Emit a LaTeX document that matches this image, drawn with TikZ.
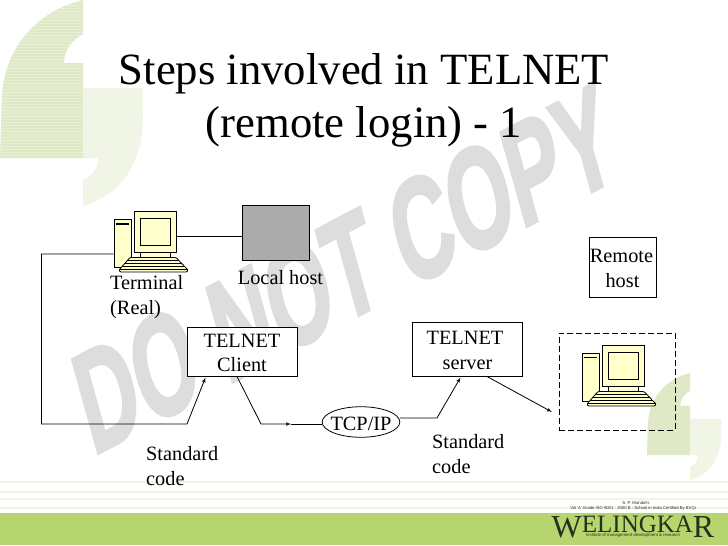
\documentclass[tikz,border=0pt]{standalone}
\usepackage{fontspec}
\setmainfont{Liberation Serif}
\newfontfamily\marksans{Liberation Sans}
\newfontfamily\markheavy{Liberation Sans}[BoldFeatures={FakeBold=2.5}]
\usetikzlibrary{shapes,arrows,calc,patterns}
\definecolor{screenyellow}{HTML}{FFFFCC}
\definecolor{quotegreen}{HTML}{DFE9C6}
\definecolor{quotestripe}{HTML}{E9F0D8}
\definecolor{quotepale}{HTML}{F1F5E6}
\definecolor{bandgreen}{HTML}{B7D56F}
\definecolor{stripegrey}{HTML}{F3F4E8}
\definecolor{markgrey}{HTML}{DDDDDD}
\definecolor{logoink}{HTML}{26301A}
\tikzstyle{line} = [draw, -latex', line width=.8pt]
\tikzstyle{block} = [draw, rectangle, text centered, inner sep=0pt, line width=1pt]
\tikzstyle{caption} = [font=\fontsize{20.3}{24.5}\selectfont, inner sep=0pt, align=left]
\tikzstyle{part} = [draw, rectangle, fill=screenyellow, inner sep=0pt, line width=.8pt]
\tikzstyle{stripe} = [stripegrey, line width=2pt]
\tikzstyle{word} = [markgrey, inner sep=0pt, anchor=base west]
\tikzstyle{small} = [inner sep=0pt, logoink]
\newcommand{\topstrut}{\rule{0pt}{16.4pt}}
\newcommand{\quotedark}{(83,0) .. controls (40,10) and (5,45) .. (2,95) -- (0,158) -- (83,158) -- (83,63) -- (64,63) .. controls (64,50) and (72,40) .. (83,34) -- cycle}
\newcommand{\quotelight}{(83,88) -- (143,88) -- (143,115) .. controls (143,165) and (120,195) .. (83,206) -- (83,180) .. controls (92,176) and (98,170) .. (98,158) -- (83,158) -- cycle}
\tikzset{pics/pcicon/.style={code={
    \node[part, minimum width=17pt, minimum height=48pt] (-tower) at (8.5,24) {};
    \fill (2,3.5) rectangle +(13,#1);
    \node[part, minimum width=42pt, minimum height=41pt] (-monitor) at (41,12.5) {};
    \node[part, minimum width=30pt, minimum height=27pt] (-screen) at (41,12.5) {};
    \draw[fill=screenyellow, line width=.8pt] (26,33) rectangle (56,39);
    \draw[fill=screenyellow, line width=.8pt, rounded corners=1pt] (16,38.5) -- (62,38.5) -- (74,51) -- (73,53) -- (6,53) -- (5,51) -- cycle;
    \draw[line width=.7pt] (13,41.5) -- (65,41.5);
    \draw[line width=.7pt] (11,44) -- (68,44);
    \draw[line width=.7pt] (8,47) -- (71,47);
    \draw[line width=.7pt] (5.5,50.5) -- (73.5,50.5);
}}}

\begin{document}
\begin{tikzpicture}[x=1pt, y=-1pt]
        \useasboundingbox (0,0) rectangle (728,546);
        % background
        \fill[white] (0,0) rectangle (728,546);
        \fill[quotegreen] \quotedark;
        \fill[pattern=horizontal lines, pattern color=quotestripe] \quotedark;
        \fill[quotepale] \quotelight;
        \begin{scope}[shift={(647,373)}, scale=.52]
            \fill[quotegreen] \quotedark;
            \fill[quotepale] \quotelight;
        \end{scope}
        \draw[stripe] (0,482) -- (728,482);
        \draw[stripe] (0,492) -- (728,492);
        \draw[stripe] (0,499) -- (728,499);
        \draw[stripe] (0,508) -- (728,508);
        \fill[bandgreen] (0,513) rectangle (728,545);
        \begin{scope}[cm={.54,.286,-.27,.97,(93,456)}]
            \node[word, transform shape, font=\markheavy\bfseries\fontsize{140}{140}\selectfont] at (0,0) (mark) {DO NOT COPY};
        \end{scope}
        % title
        \node[font=\fontsize{44.7}{53}\selectfont, align=center, inner sep=0pt] at (364,100) (title) {Steps involved in TELNET\\(remote login) - 1};
        % left side
        \pic (real) at (114,219) {pcicon=2};
        \node[caption] at (110,297) [anchor=west] (terminal) {Terminal\\(Real)};
        \node[block, fill=black!33, minimum width=67pt, minimum height=55pt] at (275.5,232.5) (local) {};
        \node[caption, below of=local, node distance=45pt, xshift=5pt] (locallabel) {Local host};
        \node[block, caption, align=center, fill=white, minimum width=110pt, minimum height=49pt] at (242,351.5) (client) {\topstrut TELNET\\Client};
        \node[caption] at (146,466) [anchor=west] (standarda) {Standard\\code};
        % middle
        \node[draw, ellipse, caption, line width=.8pt, inner xsep=-3pt, inner ysep=2.5pt] at (361,422) (tcp) {\topstrut TCP/IP};
        \node[block, caption, align=center, fill=white, minimum width=110pt, minimum height=54pt] at (467,349) (server) {\topstrut TELNET\hspace*{4pt}\\\hspace*{1pt}server};
        \node[caption] at (432,454) [anchor=west] (standardb) {Standard\\code};
        % right side
        \node[block, caption, align=center, fill=white, minimum width=67pt, minimum height=60pt] at (622.5,267) (remote) {\topstrut Remote\hspace*{2pt}\\host};
        \node[draw, rectangle, dash pattern=on 6pt off 3pt, line width=.8pt, minimum width=116pt, minimum height=97pt, inner sep=0pt] at (617,381.5) (remotebox) {};
        \pic (virtual) at (582,353) {pcicon=.6};
        % bends and free ends
        \coordinate (loopa) at (41.5,254);
        \coordinate (loopb) at (41.5,424);
        \coordinate (loopc) at (187,424);
        \coordinate (clientbend) at (261,424);
        \coordinate (clientmid) at (291,424);
        \coordinate (serverbend) at (437,418);
        \coordinate (serverout) at (552,412);
        % connectors
        \draw[line width=.8pt] (real-monitor.east) +(0,4.5) -- ($(real-monitor.east -| local.west)+(0,4.5)$);
        \path[line] (real-tower.west) +(0,11) -- (loopa) -- (loopb) -- (loopc) -- ($(client.south west)+(19,1)$);
        \path[line] (client.south) +(-5,0) -- (clientbend) -- (clientmid);
        \draw[line width=.8pt] (clientmid) -- (tcp.west |- clientmid);
        \path[line] (tcp.east |- serverbend) -- (serverbend) -- ($(server.south west)+(49,1)$);
        \path[line] (server.south) +(20,0) -- (serverout);
        % logo
        \node[small, font=\marksans\fontsize{4.3}{5}\selectfont] at (636,503) (logotop) {S. P. Mandal's};
        \node[small, font=\marksans\fontsize{4.2}{5}\selectfont] at (633,508.5) (logoline) {Vol 'A' Grade ISO 9001 : 2000 B - School in India Certified By BVQi};
        \node[small, anchor=base, font=\fontsize{32}{32}\selectfont] at (633,537) (logo) {W\raisebox{5pt}{\fontsize{25}{25}\selectfont ELINGKA}R};
        \node[small, font=\marksans\fontsize{4.3}{5}\selectfont] at (633,535) (logosub) {Institute of management development \& research};
\end{tikzpicture}
\end{document}
